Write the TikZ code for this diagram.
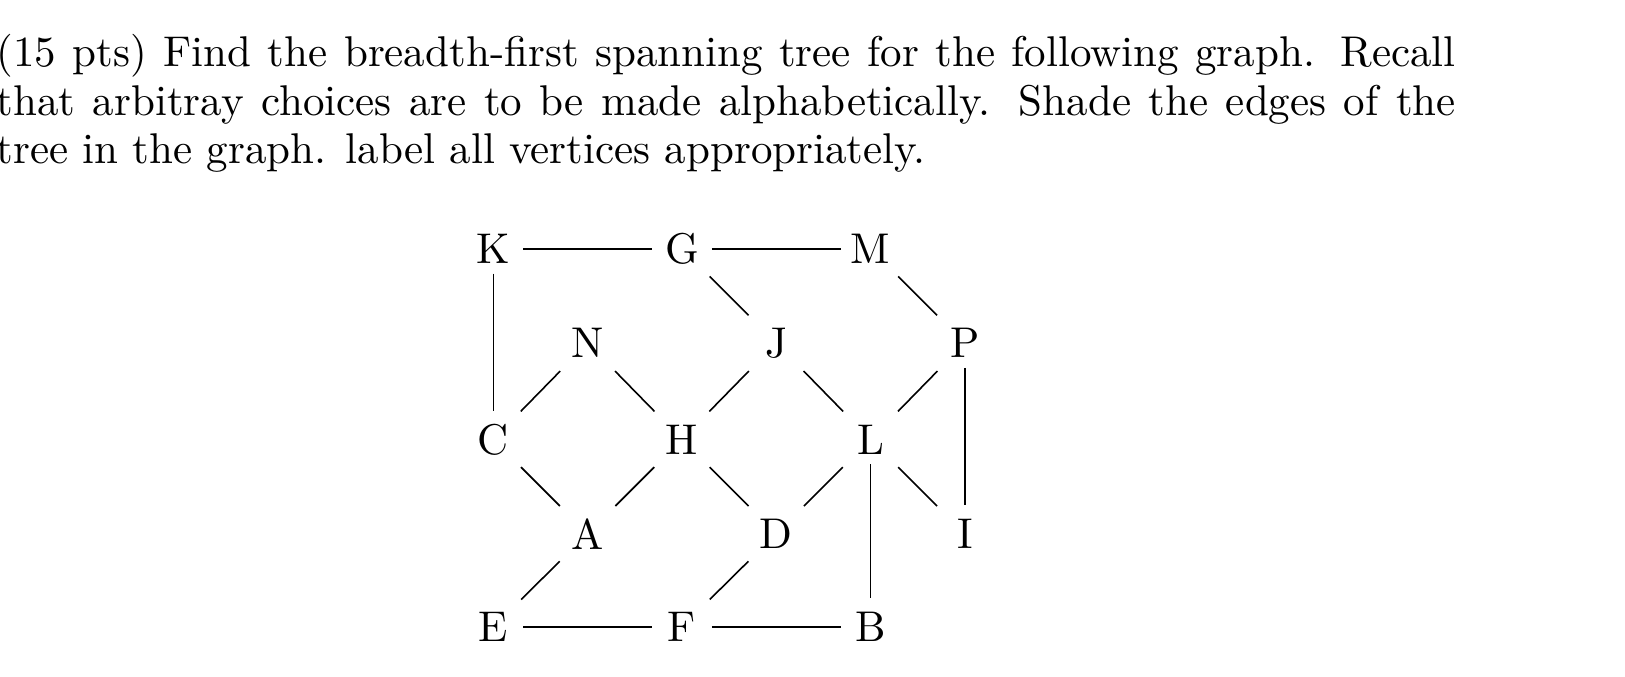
\documentclass[tikz,border=0pt]{standalone}
\begin{document}
\begin{tikzpicture}[x=0.2591pt,y=-0.2591pt,
  v/.style={inner sep=0pt,font=\fontsize{10.75}{12}\selectfont},
  e/.style={line width=0.4pt},
  eh/.style={e,shorten <=7.5pt,shorten >=7.5pt},
  ed/.style={e,shorten <=9.8pt,shorten >=9.8pt},
  ev/.style={e,shorten <=6.2pt,shorten >=7.2pt}]
\useasboundingbox (0,0) rectangle (1568,653);
\begin{scope}[overlay]
\node[anchor=north west,inner sep=0pt,text width=364.8pt,align=justify,
  font=\fontsize{10.75}{12.2}\selectfont] (t) at (-4,32)
 {(15 pts) Find the breadth-first spanning tree for the following graph. Recall that arbitray choices are to be made alphabetically. Shade the edges of the tree in the graph. label all vertices appropriately.};
\node[v] (K) at (476,240) {K};
\node[v] (G) at (658,240) {G};
\node[v] (M) at (840,240) {M};
\node[v] (N) at (567,331) {N};
\node[v] (J) at (749,331) {J};
\node[v] (P) at (931,331) {P};
\node[v] (C) at (476,424) {C};
\node[v] (H) at (658,424) {H};
\node[v] (L) at (840,424) {L};
\node[v] (A) at (567,515) {A};
\node[v] (D) at (749,515) {D};
\node[v] (I) at (931,515) {I};
\node[v] (E) at (476,605) {E};
\node[v] (F) at (658,605) {F};
\node[v] (B) at (840,605) {B};
\foreach \a/\b in {K/G,G/M,E/F,F/B}
  \draw[eh] (\a.center) -- (\b.center);
\foreach \a/\b in {K/C,P/I,L/B}
  \draw[ev] (\a.center) -- (\b.center);
\foreach \a/\b in {G/J,M/P,N/C,N/H,J/H,J/L,P/L,C/A,H/A,H/D,L/D,L/I,A/E,D/F}
  \draw[ed] (\a.center) -- (\b.center);
\end{scope}
\end{tikzpicture}
\end{document}
